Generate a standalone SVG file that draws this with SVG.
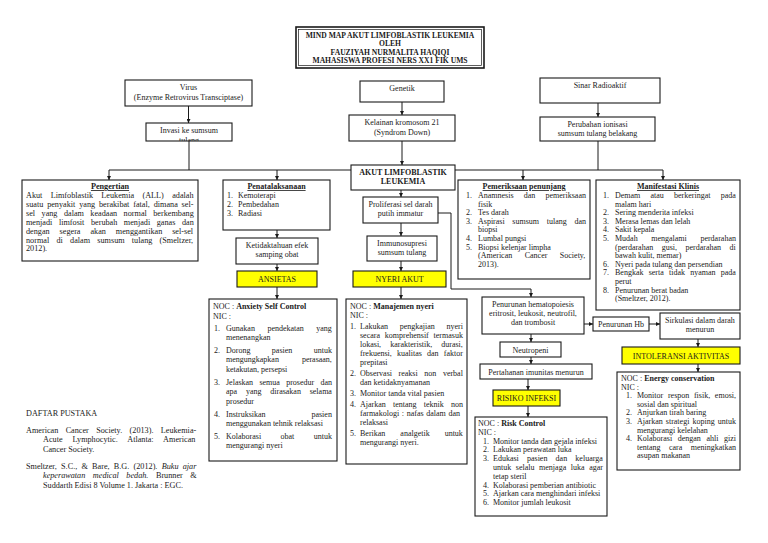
<svg xmlns="http://www.w3.org/2000/svg" width="768" height="543" viewBox="0 0 768 543">
<defs>
<style>
.t{font-family:"Liberation Serif","Times New Roman",serif;font-size:8px;fill:#1a1a1a}
.s{font-size:8.2px}
.c{text-anchor:middle}
.b{font-weight:bold}
.u{text-decoration:underline}
.i{font-style:italic}
.box{fill:#fff;stroke:#1a1a1a;stroke-width:1.1}
.yel{fill:#ffff00;stroke:#1a1a1a;stroke-width:1.1}
.ln{fill:none;stroke:#1a1a1a;stroke-width:1}
.ar{fill:none;stroke:#1a1a1a;stroke-width:1;marker-end:url(#ah)}
</style>
<marker id="ah" viewBox="0 0 6 6" refX="6" refY="3" markerWidth="4" markerHeight="4" markerUnits="userSpaceOnUse" orient="auto"><path d="M0,0 L6,3 L0,6 z" fill="#1a1a1a"/></marker>
<clipPath id="clipInv"><rect x="146" y="123" width="86" height="18"/></clipPath>
</defs>
<rect width="768" height="543" fill="#fff"/>

<g id="connectors">
<path class="ar" d="M188.5,106 V123"/>
<path class="ln" d="M189,141 V170"/>
<path class="ar" d="M402,102 V115"/>
<path class="ar" d="M402,141 V165"/>
<path class="ar" d="M598,103 V117"/>
<path class="ln" d="M598,141 V170"/>
<path class="ln" d="M109,170 H663"/>
<path class="ar" d="M109,170 V180"/>
<path class="ar" d="M277,170 V180"/>
<path class="ar" d="M523,170 V180"/>
<path class="ar" d="M663,170 V180"/>
<path class="ar" d="M277,230 V238"/>
<path class="ar" d="M277,264 V271"/>
<path class="ar" d="M277,287 V299"/>
<path class="ar" d="M401,190 V197"/>
<path class="ar" d="M401,223 V236"/>
<path class="ar" d="M401,261 V271"/>
<path class="ar" d="M401,287 V299"/>
<path class="ar" d="M438,213 H451 V289 H531 V297"/>
<path class="ar" d="M531,334 V342"/>
<path class="ar" d="M531,357 V364"/>
<path class="ar" d="M528,379 V390"/>
<path class="ar" d="M528,406 V417"/>
<path class="ar" d="M584,324 H593"/>
<path class="ar" d="M649,324 H660"/>
<path class="ar" d="M698,339 V347"/>
<path class="ar" d="M698,364 V372"/>
</g>

<g id="title">
<rect x="296" y="27" width="188" height="41" fill="#fff" stroke="#1a1a1a" stroke-width="1.6"/>
<rect x="298.5" y="29.5" width="183" height="36" fill="none" stroke="#1a1a1a" stroke-width="0.7"/>
<text class="t c b" x="390" y="37.5" style="font-size:7.6px">MIND MAP AKUT LIMFOBLASTIK LEUKEMIA</text>
<text class="t c b" x="390" y="46" style="font-size:7.6px">OLEH</text>
<text class="t c b" x="390" y="54.5" style="font-size:7.6px">FAUZIYAH NURMALITA HAQIQI</text>
<text class="t c b" x="390" y="63" style="font-size:7.6px">MAHASISWA PROFESI NERS XX1 FIK UMS</text>
</g>

<g id="virus">
<rect class="box" x="125" y="80" width="127" height="26"/>
<text class="t c" x="188.5" y="90">Virus</text>
<text class="t c" x="188.5" y="100">(Enzyme Retrovirus Transciptase)</text>
</g>
<g id="invasi">
<rect class="box" x="146" y="123" width="86" height="18"/>
<g clip-path="url(#clipInv)">
<text class="t c" x="189" y="133">Invasi ke sumsum</text>
<text class="t c" x="189" y="142.5">tulang</text>
</g>
</g>
<g id="genetik">
<rect class="box" x="360" y="81" width="84" height="21"/>
<text class="t c" x="402" y="91">Genetik</text>
</g>
<g id="kelainan">
<rect class="box" x="349" y="115" width="106" height="26"/>
<text class="t c" x="402" y="125">Kelainan kromosom 21</text>
<text class="t c" x="402" y="135">(Syndrom Down)</text>
</g>
<g id="sinar">
<rect class="box" x="540" y="78" width="120" height="25"/>
<text class="t c" x="600" y="88">Sinar Radioaktif</text>
</g>
<g id="perubahan">
<rect class="box" x="540" y="117" width="115" height="24"/>
<text class="t c" x="597.5" y="127">Perubahan ionisasi</text>
<text class="t c" x="597.5" y="136">sumsum tulang belakang</text>
</g>

<g id="akut">
<rect class="box" x="351" y="165" width="104" height="25" stroke-width="1.5"/>
<text class="t c b" x="403" y="175">AKUT LIMFOBLASTIK</text>
<text class="t c b" x="403" y="184">LEUKEMIA</text>
</g>

<g id="pengertian">
<rect class="box" x="22" y="180" width="176" height="81"/>
<text class="t s c b u" x="110" y="189">Pengertian</text>
<text class="t s" x="26" y="198" style="word-spacing:6.3px">Akut Limfoblastik Leukemia (ALL) adalah</text>
<text class="t s" x="26" y="206.9" style="word-spacing:1.8px">suatu penyakit yang berakibat fatal, dimana sel-</text>
<text class="t s" x="26" y="215.8" style="word-spacing:4.4px">sel yang dalam keadaan normal berkembang</text>
<text class="t s" x="26" y="224.7" style="word-spacing:4.5px">menjadi limfosit berubah menjadi ganas dan</text>
<text class="t s" x="26" y="233.6" style="word-spacing:7.9px">dengan segera akan menggantikan sel-sel</text>
<text class="t s" x="26" y="242.5" style="word-spacing:5.2px">normal di dalam sumsum tulang (Smeltzer,</text>
<text class="t s" x="26" y="251.4">2012).</text>
</g>

<g id="penatalaksanaan">
<rect class="box" x="223" y="180" width="107" height="50"/>
<text class="t c b u" x="276.5" y="189">Penatalaksanaan</text>
<text class="t" x="227" y="198">1.</text><text class="t" x="238" y="198">Kemoterapi</text>
<text class="t" x="227" y="207">2.</text><text class="t" x="238" y="207">Pembedahan</text>
<text class="t" x="227" y="216">3.</text><text class="t" x="238" y="216">Radiasi</text>
</g>
<g id="ketidaktahuan">
<rect class="box" x="236" y="238" width="82" height="26"/>
<text class="t c" x="277" y="248">Ketidaktahuan efek</text>
<text class="t c" x="277" y="257">samping obat</text>
</g>
<g id="ansietas">
<rect class="yel" x="237" y="271" width="80" height="16"/>
<text class="t c" x="277" y="282">ANSIETAS</text>
</g>
<g id="noc-anxiety">
<rect class="box" x="209" y="299" width="128" height="162"/>
<text class="t" x="213" y="309">NOC : <tspan class="b">Anxiety Self Control</tspan></text>
<text class="t" x="213" y="318.5">NIC :</text>
<text class="t" x="214" y="330.5">1.</text><text class="t" x="226" y="330.5" style="word-spacing:10.5px">Gunakan pendekatan yang</text>
<text class="t" x="226" y="339.9">menenangkan</text>
<text class="t" x="214" y="352.9">2.</text><text class="t" x="226" y="352.9" style="word-spacing:19.4px">Dorong pasien untuk</text>
<text class="t" x="226" y="362.3" style="word-spacing:21px">mengungkapkan perasaan,</text>
<text class="t" x="226" y="371.7">ketakutan, persepsi</text>
<text class="t" x="214" y="384.7">3.</text><text class="t" x="226" y="384.7" style="word-spacing:4.3px">Jelaskan semua prosedur dan</text>
<text class="t" x="226" y="394.1" style="word-spacing:6.8px">apa yang dirasakan selama</text>
<text class="t" x="226" y="403.5">prosedur</text>
<text class="t" x="214" y="416.5">4.</text><text class="t" x="226" y="416.5" style="word-spacing:43.9px">Instruksikan pasien</text>
<text class="t" x="226" y="425.9">menggunakan tehnik relaksasi</text>
<text class="t" x="214" y="438.9">5.</text><text class="t" x="226" y="438.9" style="word-spacing:17.4px">Kolaborasi obat untuk</text>
<text class="t" x="226" y="448.3">mengurangi nyeri</text>
</g>

<g id="proliferasi">
<rect class="box" x="363" y="197" width="75" height="26"/>
<text class="t c" x="400.5" y="207">Proliferasi sel darah</text>
<text class="t c" x="400.5" y="216">putih immatur</text>
</g>
<g id="immunosupresi">
<rect class="box" x="367" y="236" width="70" height="25"/>
<text class="t c" x="402" y="246">Immunosupresi</text>
<text class="t c" x="402" y="255">sumsum tulang</text>
</g>
<g id="nyeri-akut">
<rect class="yel" x="353" y="271" width="93" height="16"/>
<text class="t c" x="399.5" y="282">NYERI AKUT</text>
</g>
<g id="noc-nyeri">
<rect class="box" x="346" y="299" width="121" height="165"/>
<text class="t" x="350" y="309">NOC : <tspan class="b">Manajemen nyeri</tspan></text>
<text class="t" x="350" y="318">NIC :</text>
<text class="t" x="350" y="329">1.</text><text class="t" x="360" y="329" style="word-spacing:9.7px">Lakukan pengkajian nyeri</text>
<text class="t" x="360" y="338" style="word-spacing:2.8px">secara komprehensif termasuk</text>
<text class="t" x="360" y="347" style="word-spacing:7.1px">lokasi, karakteristik, durasi,</text>
<text class="t" x="360" y="356" style="word-spacing:3.2px">frekuensi, kualitas dan faktor</text>
<text class="t" x="360" y="365">prepitasi</text>
<text class="t" x="350" y="376">2.</text><text class="t" x="360" y="376" style="word-spacing:4.6px">Observasi reaksi non verbal</text>
<text class="t" x="360" y="385">dan ketidaknyamanan</text>
<text class="t" x="350" y="396">3.</text><text class="t" x="360" y="396">Monitor tanda vital pasien</text>
<text class="t" x="350" y="407">4.</text><text class="t" x="360" y="407" style="word-spacing:5.2px">Ajarkan tentang teknik non</text>
<text class="t" x="360" y="416" style="word-spacing:0.7px">farmakologi : nafas dalam dan</text>
<text class="t" x="360" y="425">relaksasi</text>
<text class="t" x="350" y="436">5.</text><text class="t" x="360" y="436" style="word-spacing:13px">Berikan analgetik untuk</text>
<text class="t" x="360" y="445">mengurangi nyeri.</text>
</g>

<g id="pemeriksaan">
<rect class="box" x="458" y="180" width="132" height="99"/>
<text class="t c b u" x="524" y="189">Pemeriksaan penunjang</text>
<text class="t" x="466" y="198">1.</text><text class="t" x="478" y="198" style="word-spacing:8.2px">Anamnesis dan pemeriksaan</text>
<text class="t" x="478" y="206.6">fisik</text>
<text class="t" x="466" y="215.2">2.</text><text class="t" x="478" y="215.2">Tes darah</text>
<text class="t" x="466" y="223.8">3.</text><text class="t" x="478" y="223.8" style="word-spacing:5.7px">Aspirasi sumsum tulang dan</text>
<text class="t" x="478" y="232.4">biopsi</text>
<text class="t" x="466" y="241">4.</text><text class="t" x="478" y="241">Lumbal pungsi</text>
<text class="t" x="466" y="249.6">5.</text><text class="t" x="478" y="249.6">Biopsi kelenjar limpha</text>
<text class="t" x="478" y="258.2" style="word-spacing:10.5px">(American Cancer Society,</text>
<text class="t" x="478" y="266.8">2013).</text>
</g>

<g id="manifestasi">
<rect class="box" x="596" y="180" width="144" height="130"/>
<text class="t c b u" x="668" y="189">Manifestasi Klinis</text>
<text class="t" x="603" y="198">1.</text><text class="t" x="615" y="198" style="word-spacing:8.2px">Demam atau berkeringat pada</text>
<text class="t" x="615" y="206.6">malam hari</text>
<text class="t" x="603" y="215.2">2.</text><text class="t" x="615" y="215.2">Sering menderita infeksi</text>
<text class="t" x="603" y="223.8">3.</text><text class="t" x="615" y="223.8">Merasa lemas dan lelah</text>
<text class="t" x="603" y="232.4">4.</text><text class="t" x="615" y="232.4">Sakit kepala</text>
<text class="t" x="603" y="241">5.</text><text class="t" x="615" y="241" style="word-spacing:11.6px">Mudah mengalami perdarahan</text>
<text class="t" x="615" y="249.6" style="word-spacing:6.5px">(perdarahan gusi, perdarahan di</text>
<text class="t" x="615" y="258.2">bawah kulit, memar)</text>
<text class="t" x="603" y="266.8">6.</text><text class="t" x="615" y="266.8">Nyeri pada tulang dan persendian</text>
<text class="t" x="603" y="275.4">7.</text><text class="t" x="615" y="275.4" style="word-spacing:3.2px">Bengkak serta tidak nyaman pada</text>
<text class="t" x="615" y="284">perut</text>
<text class="t" x="603" y="292.6">8.</text><text class="t" x="615" y="292.6">Penurunan berat badan</text>
<text class="t" x="615" y="301.2">(Smeltzer, 2012).</text>
</g>

<g id="penurunan-hematopoiesis">
<rect class="box" x="482" y="297" width="102" height="37"/>
<text class="t c" x="533" y="306.5">Penurunan hematopoiesis</text>
<text class="t c" x="533" y="315.5">eritrosit, leukosit, neutrofil,</text>
<text class="t c" x="533" y="324.5">dan trombosit</text>
</g>
<g id="neutropeni">
<rect class="box" x="500" y="342" width="61" height="15"/>
<text class="t c" x="530.5" y="352.5">Neutropeni</text>
</g>
<g id="pertahanan">
<rect class="box" x="480" y="364" width="112" height="15"/>
<text class="t c" x="536" y="374.5">Pertahanan imunitas menurun</text>
</g>
<g id="risiko-infeksi">
<rect class="yel" x="493" y="390" width="67" height="16"/>
<text class="t c" x="526.5" y="401">RISIKO INFEKSI</text>
</g>
<g id="noc-risk">
<rect class="box" x="475" y="417" width="132" height="99"/>
<text class="t" x="478" y="426">NOC : <tspan class="b">Risk Control</tspan></text>
<text class="t" x="478" y="434.8">NIC :</text>
<text class="t" x="483" y="443.6">1.</text><text class="t" x="493" y="443.6">Monitor tanda dan gejala infeksi</text>
<text class="t" x="483" y="452.4">2.</text><text class="t" x="493" y="452.4">Lakukan perawatan luka</text>
<text class="t" x="483" y="461.2">3.</text><text class="t" x="493" y="461.2" style="word-spacing:6.2px">Edukasi pasien dan keluarga</text>
<text class="t" x="493" y="470" style="word-spacing:2.6px">untuk selalu menjaga luka agar</text>
<text class="t" x="493" y="478.8">tetap steril</text>
<text class="t" x="483" y="487.6">4.</text><text class="t" x="493" y="487.6">Kolaborasi pemberian antibiotic</text>
<text class="t" x="483" y="496.4">5.</text><text class="t" x="493" y="496.4">Ajarkan cara menghindari infeksi</text>
<text class="t" x="483" y="505.2">6.</text><text class="t" x="493" y="505.2">Monitor jumlah leukosit</text>
</g>

<g id="penurunan-hb">
<rect class="box" x="593" y="317" width="56" height="14"/>
<text class="t c" x="621" y="327">Penurunan Hb</text>
</g>
<g id="sirkulasi">
<rect class="box" x="660" y="313" width="80" height="26"/>
<text class="t c" x="700" y="322.5">Sirkulasi dalam darah</text>
<text class="t c" x="700" y="331.5">menurun</text>
</g>
<g id="intoleransi">
<rect class="yel" x="622" y="347" width="118" height="17"/>
<text class="t c" x="681" y="358.5">INTOLERANSI AKTIVITAS</text>
</g>
<g id="noc-energy">
<rect class="box" x="617" y="372" width="123" height="98"/>
<text class="t" x="621" y="381">NOC : <tspan class="b">Energy conservation</tspan></text>
<text class="t" x="621" y="389.6">NIC :</text>
<text class="t" x="626" y="398.2">1.</text><text class="t" x="637" y="398.2" style="word-spacing:2.7px">Monitor respon fisik, emosi,</text>
<text class="t" x="637" y="406.8">sosial dan spiritual</text>
<text class="t" x="626" y="415.4">2.</text><text class="t" x="637" y="415.4">Anjurkan tirah baring</text>
<text class="t" x="626" y="424">3.</text><text class="t" x="637" y="424" style="word-spacing:1.05px">Ajarkan strategi koping untuk</text>
<text class="t" x="637" y="432.6">mengurangi kelelahan</text>
<text class="t" x="626" y="441.2">4.</text><text class="t" x="637" y="441.2" style="word-spacing:3.6px">Kolaborasi dengan ahli gizi</text>
<text class="t" x="637" y="449.8" style="word-spacing:6.4px">tentang cara meningkatkan</text>
<text class="t" x="637" y="458.4">asupan makanan</text>
</g>

<g id="daftar-pustaka">
<text class="t s" x="26" y="416">DAFTAR PUSTAKA</text>
<text class="t s" x="26" y="432.5" style="word-spacing:5.3px">American Cancer Society. (2013). Leukemia-</text>
<text class="t s" x="43" y="442" style="word-spacing:7.9px">Acute Lymphocytic. Atlanta: American</text>
<text class="t s" x="43" y="451.5">Cancer Society.</text>
<text class="t s" x="26" y="468.5" style="word-spacing:2.2px">Smeltzer, S.C., &amp; Bare, B.G. (2012). <tspan class="i">Buku ajar</tspan></text>
<text class="t s" x="43" y="478" style="word-spacing:5.5px"><tspan class="i">keperawatan medical bedah.</tspan> Brunner &amp;</text>
<text class="t s" x="43" y="487.5">Suddarth Edisi 8 Volume 1. Jakarta : EGC.</text>
</g>
</svg>
